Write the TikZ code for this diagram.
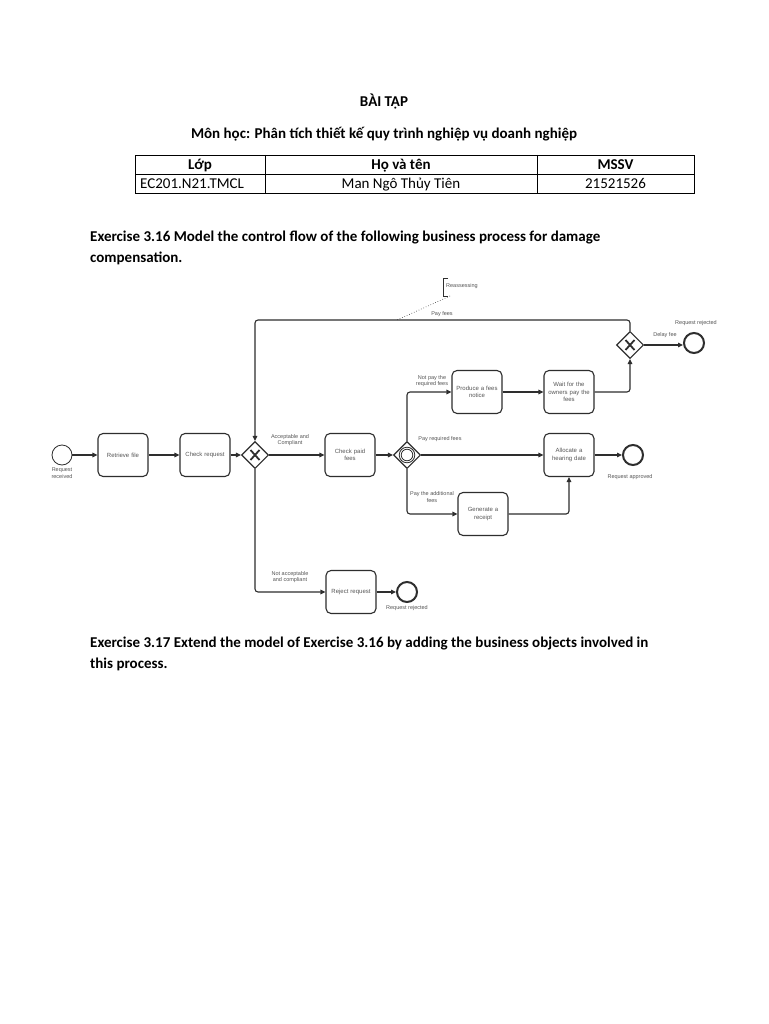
\documentclass[tikz,border=0pt]{standalone}
\usepackage{fontspec}
\setmainfont{Carlito}
\newfontfamily\dfont{Liberation Sans}
\usetikzlibrary{shapes.geometric,arrows.meta,calc}
\definecolor{lc}{HTML}{2E2E2E}
\definecolor{tc}{HTML}{555555}
\begin{document}
\begin{tikzpicture}[x=1pt,y=-1pt,
 task/.style={draw=lc,line width=1.1pt,rounded corners=5pt,minimum width=50pt,minimum height=43pt,align=center,font=\dfont\fontsize{6}{7.5}\selectfont,text=tc,inner sep=1pt,text width=46pt},
 gw/.style={diamond,draw=lc,line width=1.1pt,minimum width=27pt,minimum height=27pt,inner sep=0pt,fill=white},
 ev/.style={circle,draw=lc,minimum size=20pt,inner sep=0pt,line width=0.8pt},
 endev/.style={ev,line width=2pt},
 lbl/.style={font=\dfont\fontsize{5.5}{6.5}\selectfont,text=tc,align=center,inner sep=0pt},
 flow/.style={draw=lc,line width=1.1pt,-{Triangle[length=5pt,width=4.5pt]},rounded corners=3pt},
 body/.style={font=\fontsize{15}{21}\selectfont,inner sep=0pt,anchor=base},
 bbody/.style={body,font=\bfseries\fontsize{15}{21}\selectfont},
]
\useasboundingbox (0,0) rectangle (768,1024);
\fill[white] (0,0) rectangle (768,1024);
% header
\node[bbody] (title) at (384,107) {BÀI TẬP};
\node[bbody] (subject) at (384,139) {Môn học: Phân tích thiết kế quy trình nghiệp vụ doanh nghiệp};
% table
\draw[line width=0.6pt] (135,155) rectangle (694,193);
\draw[line width=0.6pt] (135,174) -- (694,174);
\draw[line width=0.6pt] (265,155) -- (265,193);
\draw[line width=0.6pt] (537,155) -- (537,193);
\node[bbody] (h1) at (200,169.5) {Lớp};
\node[bbody] (h2) at (401,169.5) {Họ và tên};
\node[bbody] (h3) at (615.5,169.5) {MSSV};
\node[body,anchor=base west] (c1) at (140,188.5) {EC201.N21.TMCL};
\node[body] (c2) at (401,188.5) {Man Ngô Thủy Tiên};
\node[body] (c3) at (615.5,188.5) {21521526};
% exercise texts
\node[bbody,anchor=base west] (ex316a) at (90,241) {Exercise 3.16 Model the control flow of the following business process for damage};
\node[bbody,anchor=base west] (ex316b) at (90,262) {compensation.};
\node[bbody,anchor=base west] (ex317a) at (90,647) {Exercise 3.17 Extend the model of Exercise 3.16 by adding the business objects involved in};
\node[bbody,anchor=base west] (ex317b) at (90,668) {this process.};
% diagram nodes
\node[ev] (start) at (62,455) {};
\node[lbl,anchor=north] (startl) at (62,468) {Request\\received};
\node[task] (retrieve) at (123,455) {Retrieve file};
\node[task] (check) at (205,455) {Check request};
\node[gw] (g1) at (255,455) {};
\draw[lc,line width=1.8pt] ($(g1.center)+(-4.5,-5)$) -- ($(g1.center)+(4.5,5)$);
\draw[lc,line width=1.8pt] ($(g1.center)+(-4.5,5)$) -- ($(g1.center)+(4.5,-5)$);
\node[task] (paid) at (350,455) {Check paid\\fees};
\node[gw] (g3) at (407,455) {};
\draw[lc,line width=0.8pt] (g3.center) circle (7.8);
\draw[lc,line width=0.8pt] (g3.center) circle (5.8);
\node[task] (produce) at (477,392) {Produce a fees\\notice};
\node[task] (wait) at (569,392) {Wait for the\\owners pay the\\fees};
\node[gw] (g2) at (630,345) {};
\draw[lc,line width=1.8pt] ($(g2.center)+(-4.5,-5)$) -- ($(g2.center)+(4.5,5)$);
\draw[lc,line width=1.8pt] ($(g2.center)+(-4.5,5)$) -- ($(g2.center)+(4.5,-5)$);
\node[endev] (endrej1) at (694,343) {};
\node[lbl,anchor=south] (endrej1l) at (696,326) {Request rejected};
\node[task] (allocate) at (569,455) {Allocate a\\hearing date};
\node[endev] (endapp) at (633,455) {};
\node[lbl,anchor=north] (endappl) at (630,474) {Request approved};
\node[task] (receipt) at (483,514) {Generate a\\receipt};
\node[task] (reject) at (351,592) {Reject request};
\node[endev] (endrej2) at (407,592) {};
\node[lbl,anchor=north] (endrej2l) at (407,605) {Request rejected};
% annotation
\draw[lc,line width=0.7pt] (448,278) -- (443,278) -- (443,296) -- (448,296);
\node[lbl,anchor=west] (annot) at (446,286) {Reassessing};
\coordinate (annA) at (450,296);
\coordinate (annB) at (397,320);
\draw[lc,dotted,line width=0.6pt] (annA) -- (annB);
% flows
\draw[flow] (start) -- (retrieve);
\draw[flow] (retrieve) -- (check);
\draw[flow] (check) -- (g1);
\draw[flow] (g1) -- (paid);
\node[lbl] (accl) at (290,440) {Acceptable and\\Compliant};
\draw[flow] (paid) -- (g3);
\coordinate (top) at (0,320);
\draw[flow] (g2.north) -- (g2.north |- top) -- (g1.north |- top) -- (g1.north);
\node[lbl] (payfees) at (442,314) {Pay fees};
\draw[flow] (g1.south) |- (reject.west);
\node[lbl] (notacc) at (290,577) {Not acceptable\\and compliant};
\draw[flow] (reject) -- (endrej2);
\draw[flow] (g3.north) |- (produce.west);
\node[lbl] (notpay) at (432,381) {Not pay the\\required fees};
\draw[flow] (g3.east) -- (allocate.west);
\node[lbl] (payreq) at (440,439) {Pay required fees};
\draw[flow] (g3.south) |- (receipt.west);
\node[lbl] (payadd) at (432,497) {Pay the additional\\fees};
\draw[flow] (receipt.east) -| (allocate.south);
\draw[flow] (produce) -- (wait);
\draw[flow] (wait.east) -| (g2.south);
\draw[flow] (g2.east) -- (endrej1.west |- g2.east);
\node[lbl] (delay) at (665,335) {Delay fee};
\draw[flow] (allocate) -- (endapp);
\end{tikzpicture}
\end{document}
